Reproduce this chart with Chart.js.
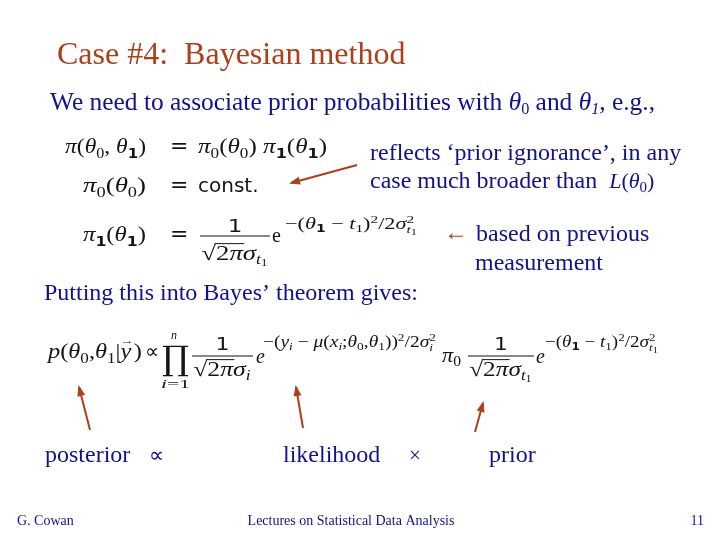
<!DOCTYPE html>
<html>
<head>
<meta charset="utf-8">
<script src="https://cdn.jsdelivr.net/npm/chart.js"></script>
<style>
  html, body { margin: 0; padding: 0; background: #fff; }
  canvas { display: block; }
</style>
</head>
<body>
<canvas id="slide" width="720" height="540"></canvas>
<script>
// arrows on the slide (slide coordinates, px, y pointing down)
const arrowNames = ['ignorance', 'posterior', 'likelihood', 'prior'];
const tailX = [357, 90, 303, 475];
const tailY = [165, 430, 428, 432];
const headX = [291, 79, 296, 483];
const headY = [183, 387, 387, 403];

// words under the posterior formula
const bottomWords = ['posterior', '\u221D', 'likelihood', '\u00D7', 'prior'];
const bottomX = [45, 149, 283, 409, 489];

const navy = '#11118f';
const brown = '#ad3f1a';
const ink = '#151515';
const serif = '"Liberation Serif", "Times New Roman", serif';
const sans = '"DejaVu Sans", sans-serif';

const R = s => s + 'px ' + serif;
const I = s => 'italic ' + s + 'px ' + serif;
const B = s => 'bold ' + s + 'px ' + sans;
const S = s => s + 'px ' + sans;

// draw a run of [text, font, dy, back] pieces, return end x
function run(ctx, x, y, parts, dry) {
  let prev = x;
  for (const [t, f, dy = 0, back = false] of parts) {
    if (back) x = prev;
    ctx.font = f;
    if (!dry) ctx.fillText(t, x, y + dy);
    prev = x;
    x += ctx.measureText(t).width;
  }
  return x;
}

// draw fn (origin at 0,0) squeezed/stretched to a given width
function fit(ctx, x, y, w, fn) {
  const nat = fn(true);
  ctx.save();
  ctx.translate(x, y);
  ctx.scale(w / nat, 1);
  fn(false);
  ctx.restore();
}
const fitRun = (ctx, x, y, w, parts) => fit(ctx, x, y, w, dry => run(ctx, 0, 0, parts, dry));

// sqrt(2 pi) sigma_sub
function denom(ctx, x, y, size, sub, dry) {
  ctx.font = R(size);
  const w0 = ctx.measureText('\u221A').width;
  if (!dry) ctx.fillText('\u221A', x, y);
  const x2 = x + w0;
  const x3 = run(ctx, x2, y, [['2', R(size)], ['\u03C0', I(size)]], dry);
  if (!dry) {
    ctx.lineWidth = 1;
    ctx.beginPath();
    ctx.moveTo(x2 - 1, y - size * 0.78);
    ctx.lineTo(x3 + 1, y - size * 0.78);
    ctx.stroke();
  }
  return run(ctx, x3, y, [['\u03C3', I(size)]].concat(sub), dry);
}

// 1 / (sqrt(2 pi) sigma), origin at left end of the bar
function frac(ctx, size, sub, up, down, dry) {
  const w = denom(ctx, 0, 0, size, sub, true) + 3;
  if (dry) return w;
  ctx.font = S(18);
  const nw = ctx.measureText('1').width;
  ctx.fillText('1', (w - nw) / 2, -up);
  ctx.lineWidth = 1;
  ctx.beginPath();
  ctx.moveTo(0, 0);
  ctx.lineTo(w, 0);
  ctx.stroke();
  denom(ctx, 1, down, size, sub);
  return w;
}

const sigT1 = [['t', I(14), 4], ['1', R(10), 6]];
const priorExp = [
  ['\u2212(', R(16)], ['\u03B8', I(16)], ['1', B(10), 3], [' \u2212 ', R(16)], ['t', I(16)], ['1', R(11), 3],
  [')', R(16)], ['2', R(11), -6], ['/2', R(16)], ['\u03C3', I(16)], ['2', R(11), -6], ['t', I(11), 4, true], ['1', R(9), 6]
];
const likeExp = [
  ['\u2212(', R(16)], ['y', I(16)], ['i', I(11), 3], [' \u2212 ', R(16)], ['\u03BC', I(16)], ['(', R(16)],
  ['x', I(16)], ['i', I(11), 3], [';', R(16)], ['\u03B8', I(16)], ['0', R(11), 3], [',', R(16)],
  ['\u03B8', I(16)], ['1', R(11), 3], ['))', R(16)], ['2', R(11), -6], ['/2', R(16)], ['\u03C3', I(16)],
  ['2', R(11), -6], ['i', I(11), 4, true]
];

const slideText = {
  id: 'slideText',
  afterDraw(chart) {
    const ctx = chart.ctx;
    ctx.save();
    ctx.textBaseline = 'alphabetic';

    // title + intro
    ctx.fillStyle = brown;
    ctx.font = R(32);
    ctx.fillText('Case #4:  Bayesian method', 57, 64);

    ctx.fillStyle = navy;
    fitRun(ctx, 50, 110, 605, [
      ['We need to associate prior probabilities with ', R(25)],
      ['\u03B8', I(25)], ['0', R(16), 4], [' and ', R(25)],
      ['\u03B8', I(25)], ['1', I(16), 4], [', e.g.,', R(25)]
    ]);

    // prior equations
    ctx.fillStyle = ink;
    ctx.strokeStyle = ink;
    const lhs = [
      [['\u03C0', I(22)], ['(', R(22)], ['\u03B8', I(22)], ['0', R(15), 5], [', ', R(22)], ['\u03B8', I(22)], ['1', B(14), 5], [')', R(22)]],
      [['\u03C0', I(22)], ['0', R(15), 5], ['(', R(22)], ['\u03B8', I(22)], ['0', R(15), 5], [')', R(22)]],
      [['\u03C0', I(22)], ['1', B(14), 5], ['(', R(22)], ['\u03B8', I(22)], ['1', B(14), 5], [')', R(22)]]
    ];
    const rowY = [153, 192, 241];
    const lhsX = [65, 83, 83];
    lhs.forEach((p, i) => {
      fitRun(ctx, lhsX[i], rowY[i], 146 - lhsX[i], p);
      ctx.font = S(22);
      ctx.fillText('=', 170, rowY[i]);
    });
    fitRun(ctx, 198, rowY[0], 129, [
      ['\u03C0', I(22)], ['0', R(15), 5], ['(', R(22)], ['\u03B8', I(22)], ['0', R(15), 5], [')', R(22)], [' ', R(22)],
      ['\u03C0', I(22)], ['1', B(14), 5], ['(', R(22)], ['\u03B8', I(22)], ['1', B(14), 5], [')', R(22)]
    ]);
    ctx.font = S(20);
    ctx.fillText('const.', 198, rowY[1]);
    fit(ctx, 200, 236, 70, dry => frac(ctx, 21, sigT1, 4, 24, dry));
    ctx.font = R(20);
    ctx.fillText('e', 272, 242);
    fitRun(ctx, 285, 229, 132, priorExp);

    // side notes
    ctx.fillStyle = navy;
    ctx.font = R(24);
    ctx.fillText('reflects \u2018prior ignorance\u2019, in any', 370, 160);
    run(ctx, 370, 188, [['case much broader than  ', R(24)], ['L', I(22)], ['(', R(22)], ['\u03B8', I(22)], ['0', R(15), 4], [')', R(22)]]);
    ctx.fillStyle = brown;
    ctx.font = R(24);
    ctx.fillText('\u2190', 444, 240);
    ctx.fillStyle = navy;
    ctx.fillText('based on previous', 476, 241);
    ctx.fillText('measurement', 475, 270);
    ctx.fillText('Putting this into Bayes\u2019 theorem gives:', 44, 300);

    // posterior formula
    ctx.fillStyle = ink;
    fitRun(ctx, 48, 358, 94, [
      ['p', I(20)], ['(', R(20)], ['\u03B8', I(20)], ['0', R(14), 5], [',', R(20)], ['\u03B8', I(20)], ['1', R(14), 5],
      ['|', R(20)], ['y', I(20)], ['\u2192', R(11), -14, true], [')', R(20), 0]
    ]);
    ctx.font = R(20);
    ctx.fillText('\u221D', 145, 358);
    ctx.font = '34px "DejaVu Serif", serif';
    ctx.fillText('\u220F', 162, 370);
    run(ctx, 171, 339, [['n', I(12)]]);
    fitRun(ctx, 161, 388, 29, [['i', I(13)], ['=1', R(13)]]);
    fit(ctx, 192, 356, 61, dry => frac(ctx, 21, [['i', I(14), 4]], 6, 20, dry));
    ctx.font = I(20);
    ctx.fillText('e', 256, 363);
    fitRun(ctx, 263, 347, 170, likeExp);
    fitRun(ctx, 442, 362, 19, [['\u03C0', I(20)], ['0', R(14), 4]]);
    fit(ctx, 468, 356, 66, dry => frac(ctx, 21, sigT1, 6, 20, dry));
    ctx.font = I(20);
    ctx.fillText('e', 536, 363);
    fitRun(ctx, 545, 347, 113, priorExp);

    // labels under it
    ctx.fillStyle = navy;
    bottomWords.forEach((w, i) => {
      ctx.font = R(i % 2 ? 21 : 24);
      ctx.fillText(w, bottomX[i], 462);
    });

    // footer
    ctx.font = R(14);
    ctx.fillText('G. Cowan', 17, 525);
    ctx.textAlign = 'center';
    ctx.fillText('Lectures on Statistical Data Analysis', 351, 525);
    ctx.textAlign = 'right';
    ctx.fillText('11', 704, 525);
    ctx.restore();
  }
};

// filled heads at the second point of every arrow line
const arrowHeads = {
  id: 'arrowHeads',
  afterDatasetsDraw(chart) {
    const ctx = chart.ctx;
    chart.data.datasets.forEach((ds, i) => {
      const pts = chart.getDatasetMeta(i).data;
      const a = pts[0], b = pts[1];
      const ang = Math.atan2(b.y - a.y, b.x - a.x);
      ctx.save();
      ctx.fillStyle = ds.borderColor;
      ctx.translate(b.x, b.y);
      ctx.rotate(ang);
      ctx.beginPath();
      ctx.moveTo(2, 0);
      ctx.lineTo(-9, -4);
      ctx.lineTo(-9, 4);
      ctx.closePath();
      ctx.fill();
      ctx.restore();
    });
  }
};

const slide = new Chart(document.getElementById('slide'), {
  type: 'scatter',
  data: {
    datasets: arrowNames.map((name, i) => ({
      label: name,
      data: [{ x: tailX[i], y: tailY[i] }, { x: headX[i], y: headY[i] }],
      showLine: true,
      borderColor: brown,
      borderWidth: 2,
      pointRadius: 0
    }))
  },
  options: {
    responsive: false,
    animation: false,
    events: [],
    layout: { padding: 0 },
    scales: {
      x: { type: 'linear', min: 0, max: 720, display: false },
      y: { type: 'linear', min: 0, max: 540, reverse: true, display: false }
    },
    plugins: {
      legend: { display: false },
      tooltip: { enabled: false }
    }
  },
  plugins: [slideText, arrowHeads]
});
</script>
</body>
</html>
